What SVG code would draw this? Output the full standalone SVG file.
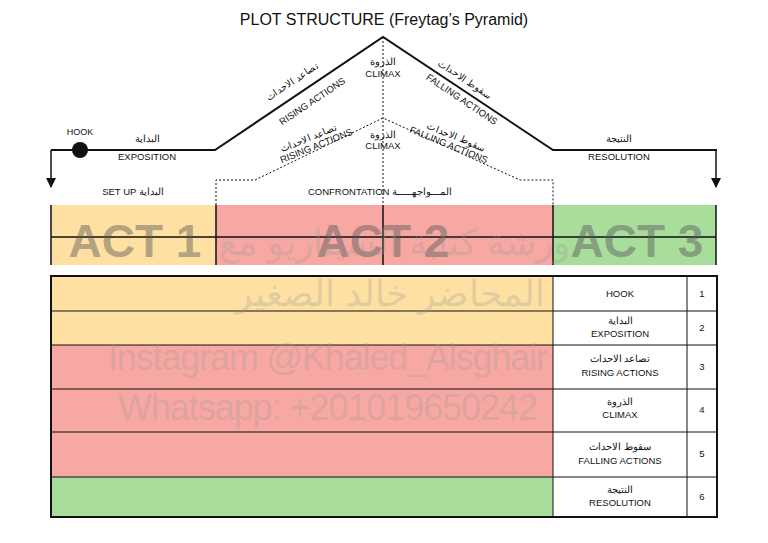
<svg xmlns="http://www.w3.org/2000/svg" width="768" height="543" viewBox="0 0 768 543">
<defs>
<style>
text{font-family:"Liberation Sans",Arial,"Noto Sans",sans-serif;fill:#111}
.s{font-size:9px}
.t{font-size:9.5px;text-anchor:middle}
.act{font-size:46px;font-weight:bold;fill:#555;fill-opacity:0.45;text-anchor:middle}
.wm{font-size:36px;fill:#999;fill-opacity:0.3}
.c{stroke:#111;fill:none}
</style>
<marker id="ah" viewBox="0 0 10 10" refX="9" refY="5" markerWidth="7" markerHeight="7" orient="auto"><path d="M0,0L10,5L0,10z" fill="#111"/></marker>
</defs>
<rect width="768" height="543" fill="#fff"/>
<text x="384" y="25" text-anchor="middle" font-size="16">PLOT STRUCTURE  (Freytag’s Pyramid)</text>
<g id="connectors">
<path class="c" stroke-width="2" d="M51,150H215L383,37L553,150H717"/>
<path class="c" stroke-width="1.5" d="M51,150V187" marker-end="url(#ah)"/>
<path class="c" stroke-width="1.5" d="M716,150V187" marker-end="url(#ah)"/>
<path class="c" stroke-width="1" stroke-dasharray="2,2" d="M216,205V180H255L383,118L520,180H553V205M383,37V205"/>
</g>
<g id="hook"><circle cx="80" cy="150" r="8" fill="#111"/><text class="s" x="80" y="135" text-anchor="middle">HOOK</text></g>
<g id="labels">
<text class="t" x="147" y="142">البداية</text><text class="t" x="147" y="160">EXPOSITION</text>
<text class="t" x="619" y="142">النتيجة</text><text class="t" x="619" y="160">RESOLUTION</text>
<text class="t" x="383" y="65">الذروة</text><text class="t" x="383" y="77">CLIMAX</text>
<text class="t" x="383" y="138" font-size="8">الذروة</text><text class="t" x="383" y="149" font-size="7">CLIMAX</text>
<g transform="translate(294,84) rotate(-34)"><text class="t">تصاعد الاحداث</text></g>
<g transform="translate(314,104) rotate(-34)"><text class="t">RISING ACTIONS</text></g>
<g transform="translate(463,82) rotate(34)"><text class="t">سقوط الاحداث</text></g>
<g transform="translate(460,102) rotate(34)"><text class="t">FALLING ACTIONS</text></g>
<g transform="translate(310,141) rotate(-22)"><text class="t" font-size="8">تصاعد الاحداث</text><text class="t" x="4" y="10" font-size="7">RISING ACTIONS</text></g>
<g transform="translate(455,140) rotate(22)"><text class="t" font-size="8">سقوط الاحداث</text><text class="t" x="-4" y="10" font-size="7">FALLING ACTIONS</text></g>
<text class="t" x="133" y="195">SET UP البداية</text>
<text class="t" x="380" y="195">CONFRONTATION المـــواجهـــــة</text>
</g>
<g id="acts">
<rect x="51" y="205" width="165" height="60" fill="#fde0a2"/>
<rect x="216" y="205" width="337" height="60" fill="#f8a8a2"/>
<rect x="553" y="205" width="163" height="60" fill="#a8dd9c"/>
<path class="c" stroke-width="1.5" d="M51,205V265M216,205V265M553,205V265M716,205V265M383,205V265M51,237H716"/>
<text class="act" x="135" y="257">ACT 1</text>
<text class="act" x="383" y="257">ACT 2</text>
<text class="act" x="637" y="257">ACT 3</text>
<text class="wm" x="570" y="255" font-size="30" text-anchor="end" fill-opacity="0.2">ورشة كتابة السيناريو مع</text>
</g>
<g id="table">
<rect x="51" y="276" width="502" height="69" fill="#fde0a2"/>
<rect x="51" y="345" width="502" height="132" fill="#f8a8a2"/>
<rect x="51" y="477" width="502" height="40" fill="#a8dd9c"/>
<path class="c" stroke-width="1" d="M51,311H717M51,345H717M51,389H717M51,432H717M51,477H717M553,276V517M687,276V517"/>
<rect x="51" y="276" width="666" height="241" class="c" stroke-width="2"/>
<text class="t" x="620" y="297">HOOK</text><text class="t" x="702" y="297">1</text>
<text class="t" x="620" y="324">البداية</text><text class="t" x="620" y="337">EXPOSITION</text><text class="t" x="702" y="331">2</text>
<text class="t" x="620" y="362">تصاعد الاحداث</text><text class="t" x="620" y="376">RISING ACTIONS</text><text class="t" x="702" y="370">3</text>
<text class="t" x="620" y="405">الذروة</text><text class="t" x="620" y="418">CLIMAX</text><text class="t" x="702" y="413">4</text>
<text class="t" x="620" y="450">سقوط الاحداث</text><text class="t" x="620" y="464">FALLING ACTIONS</text><text class="t" x="702" y="457">5</text>
<text class="t" x="620" y="493">النتيجة</text><text class="t" x="620" y="506">RESOLUTION</text><text class="t" x="702" y="500">6</text>
<text class="wm" x="545" y="306" text-anchor="end">المحاضر خالد الصغير</text>
<text class="wm" x="108" y="370" font-size="38" textLength="440">Instagram @Khaled_Alsghair</text>
<text class="wm" x="118" y="420" font-size="38" textLength="420">Whatsapp: +201019650242</text>
</g>
</svg>
